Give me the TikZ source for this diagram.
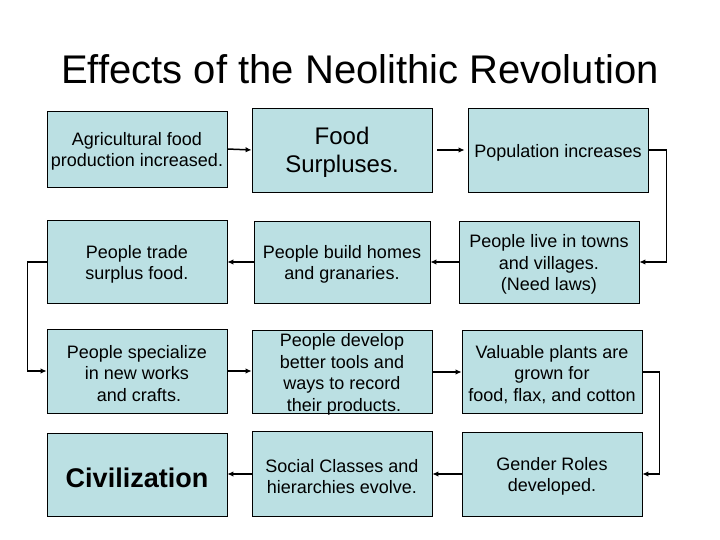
\documentclass[tikz,border=0pt]{standalone}
\usepackage{fontspec}
\setmainfont{Liberation Sans}
\usetikzlibrary{arrows.meta}
\definecolor{boxfill}{RGB}{187,224,227}
\begin{document}
\begin{tikzpicture}[x=1pt,y=-1pt,
  box/.style={draw=black, line width=0.8pt, fill=boxfill, minimum width=180pt,
    minimum height=84pt, inner sep=0pt},
  txt/.style={align=center, inner sep=0pt, yshift=-2.5pt,
    font=\fontsize{18}{21.5}\selectfont},
  conn/.style={line width=1.5pt, -{Latex[length=6pt,width=5.5pt]}}]
\useasboundingbox (0,0) rectangle (720,540);
\node[font=\fontsize{40}{48}\selectfont, anchor=base] (title) at (360,84) {Effects of the Neolithic Revolution};
% row 1
\node[box, minimum height=76pt] (A) at (137,149) {};
\node[txt] (tA) at (A.center) {Agricultural food\\production increased.};
\node[box] (B) at (342,150) {};
\node[txt, font=\fontsize{24}{28}\selectfont] (tB) at (B.center) {Food\\Surpluses.};
\node[box] (C) at (558,150) {};
\node[txt] (tC) at (C.center) {Population increases};
% row 2
\node[box, minimum height=83pt] (D) at (137,262) {};
\node[txt] (tD) at (D.center) {People trade\\surplus food.};
\node[box, minimum width=176pt, minimum height=82pt] (E) at (342,262) {};
\node[txt] (tE) at (E.center) {People build homes\\and granaries.};
\node[box, minimum height=82pt] (F) at (549,262) {};
\node[txt] (tF) at (F.center) {People live in towns\\and villages.\\(Need laws)};
% row 3
\node[box] (G) at (137,371) {};
\node[txt] (tG) at (G.center) {People specialize\\in new works\\\hspace*{4pt}and crafts.};
\node[box, minimum height=83pt] (H) at (342,372) {};
\node[txt] (tH) at (H.center) {People develop\\better tools and\\ways to record\\\hspace*{4pt}their products.};
\node[box, minimum height=83pt] (I) at (552,372) {};
\node[txt] (tI) at (I.center) {Valuable plants are\\grown for\\food, flax, and cotton};
% row 4
\node[box, minimum height=83pt] (J) at (137,475) {};
\node[txt, font=\fontsize{27}{32}\selectfont\bfseries] (tJ) at (J.center) {Civilization};
\node[box, minimum height=85pt] (K) at (342,474) {};
\node[txt] (tK) at (K.center) {Social Classes and\\hierarchies evolve.};
\node[box] (L) at (552,474) {};
\node[txt] (tL) at (L.center) {Gender Roles\\developed.};
% connectors
\draw[conn] (A.east) -- (B.west);
\draw[conn, shorten <=5pt, shorten >=3pt] (B.east) -- (C.west);
\draw[conn] (C.east) -- ++(18,0) |- (F.east);
\draw[conn] (F.west) -- (E.east);
\draw[conn] (E.west) -- (D.east);
\draw[conn] (D.west) -- ++(-19,0) |- (G.west);
\draw[conn] (G.east) -- (G.east -| H.west);
\draw[conn] (H.east) -- (H.east -| I.west);
\draw[conn] (I.east) -- ++(17,0) |- (L.east);
\draw[conn] (L.west) -- (L.west -| K.east);
\draw[conn] (K.west) -- (K.west -| J.east);
\end{tikzpicture}
\end{document}
